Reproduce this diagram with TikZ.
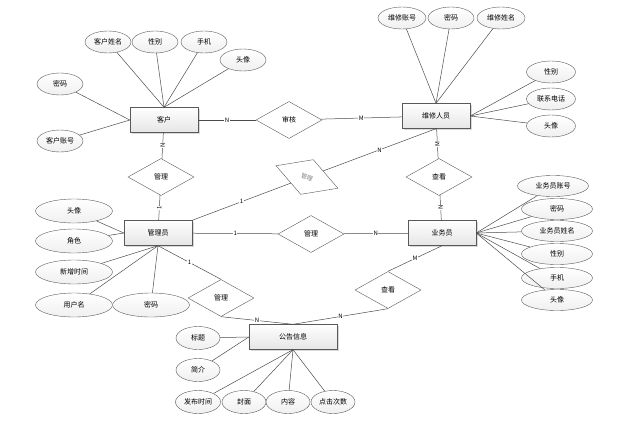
\documentclass[tikz,border=0pt]{standalone}
\usepackage{fontspec}
\setmainfont{Noto Sans CJK SC}
\usetikzlibrary{shapes.geometric,shadows}
\begin{document}
\begin{tikzpicture}[x=1pt,y=-1pt,
 every node/.style={font=\fontsize{7}{8}\selectfont},
 ent/.style={draw=gray!70!black,rectangle,minimum width=68pt,minimum height=25pt,top color=white,bottom color=gray!20,drop shadow={opacity=0.3,shadow xshift=1.5pt,shadow yshift=-1.5pt}},
 att/.style={draw=gray!70!black,ellipse,minimum width=46pt,minimum height=22pt,inner sep=0pt,top color=white,bottom color=gray!12},
 rel/.style={draw=gray!70!black,diamond,aspect=1.8,minimum width=66pt,minimum height=37pt,inner sep=0pt,fill=white},
 lab/.style={fill=white,inner sep=0.5pt,font=\fontsize{6}{7}\selectfont},
 ln/.style={draw=gray!60!black,line width=0.5pt}]
\useasboundingbox (0,0) rectangle (617,420);
% entities
\node[ent] (kh) at (164,120) {客户};
\node[ent] (wx) at (436,116) {维修人员};
\node[ent] (gly) at (158,233) {管理员};
\node[ent,minimum width=68pt] (ywy) at (442,233) {业务员};
\node[ent,minimum width=88pt] (gg) at (293,337) {公告信息};
% relations
\node[rel] (r1) at (289,120) {审核};
\node[rel,aspect=1.6] (r2) at (161,177) {管理};
\node[rel,rotate=-20] (r3) at (307,177) {};
\node[text=gray,rotate=-20,font=\fontsize{6}{7}\selectfont] (r3t) at (r3.center) {管理};
\node[rel,aspect=1.7] (r4) at (439,177) {查看};
\node[rel] (r5) at (311,234) {管理};
\node[rel] (r6) at (221,298) {管理};
\node[rel] (r7) at (388,290) {查看};
% customer attributes
\node[att] (k1) at (108,42) {客户姓名};
\node[att] (k2) at (155,42) {性别};
\node[att] (k3) at (204,42) {手机};
\node[att] (k4) at (243,60) {头像};
\node[att] (k5) at (60,84) {密码};
\node[att] (k6) at (60,141) {客户账号};
% repair attributes
\node[att,minimum width=48pt] (w1) at (402,18) {维修账号};
\node[att] (w2) at (451,18) {密码};
\node[att,minimum width=48pt] (w3) at (501,18) {维修姓名};
\node[att,minimum width=49pt] (w4) at (551,72) {性别};
\node[att,minimum width=49pt] (w5) at (551,99) {联系电话};
\node[att,minimum width=49pt] (w6) at (551,126) {头像};
% admin attributes
\node[att,minimum width=77pt,minimum height=24pt] (g1) at (74,211) {头像};
\node[att,minimum width=77pt,minimum height=24pt] (g2) at (74,241) {角色};
\node[att,minimum width=77pt,minimum height=24pt] (g3) at (74,272) {新增时间};
\node[att,minimum width=77pt,minimum height=24pt] (g4) at (74,305) {用户名};
\node[att,minimum width=77pt,minimum height=24pt] (g5) at (151,305) {密码};
% salesman attributes
\node[att,minimum width=71pt,minimum height=21pt] (y1) at (553,186) {业务员账号};
\node[att,minimum width=71pt,minimum height=21pt] (y2) at (557,209) {密码};
\node[att,minimum width=71pt,minimum height=21pt] (y3) at (557,231) {业务员姓名};
\node[att,minimum width=71pt,minimum height=21pt] (y4) at (557,254) {性别};
\node[att,minimum width=71pt,minimum height=21pt] (y5) at (557,278) {手机};
\node[att,minimum width=71pt,minimum height=21pt] (y6) at (557,300) {头像};
% notice attributes
\node[att,minimum width=44pt,minimum height=23pt] (n1) at (198,338) {标题};
\node[att,minimum width=44pt,minimum height=23pt] (n2) at (198,370) {简介};
\node[att,minimum width=45pt,minimum height=23pt] (n3) at (198,402) {发布时间};
\node[att,minimum width=44pt,minimum height=23pt] (n4) at (244,402) {封面};
\node[att,minimum width=44pt,minimum height=23pt] (n5) at (288,402) {内容};
\node[att,minimum width=44pt,minimum height=23pt] (n6) at (333,402) {点击次数};
% attribute lines
\foreach \a in {k1,k2,k3,k4} \draw[ln] (\a) -- (kh.north);
\draw[ln] (k5) -- (kh.west); \draw[ln] (k6) -- (kh.west);
\foreach \a in {w1,w2,w3} \draw[ln] (\a) -- (wx.north);
\foreach \a in {w4,w5,w6} \draw[ln] (\a) -- (wx.east);
\draw[ln] (g1) -- (gly.west); \draw[ln] (g2) -- (gly.west);
\foreach \a in {g3,g4,g5} \draw[ln] (\a) -- (gly.south);
\foreach \a in {y1,y2,y3,y4,y5,y6} \draw[ln] (\a) -- (ywy.east);
\draw[ln] (n1) -- (gg.west); \draw[ln] (n2) -- (gg.west);
\foreach \a in {n3,n4,n5,n6} \draw[ln] (\a) -- (gg.south);
% relation lines
\draw[ln] (kh) -- node[lab]{N} (r1);
\draw[ln] (r1) -- node[lab]{M} (wx);
\draw[ln] (kh) -- node[lab,rotate=90]{N} (r2);
\draw[ln] (r2) -- node[lab,rotate=90]{1} (gly);
\draw[ln] (gly.north east) -- node[lab]{1} (r3);
\draw[ln] (r3) -- node[lab]{N} (wx.south);
\draw[ln] (wx) -- node[lab,rotate=90]{M} (r4);
\draw[ln] (r4) -- node[lab,rotate=90]{N} (ywy);
\draw[ln] (gly) -- node[lab]{1} (r5);
\draw[ln] (r5) -- node[lab]{N} (ywy);
\draw[ln] (gly.south) -- node[lab]{1} (r6.north);
\draw[ln] (r6.south) -- node[lab]{N} (gg.north);
\draw[ln] (ywy.south) -- node[lab]{M} (r7.north);
\draw[ln] (r7.south) -- node[lab]{N} (gg.north);
\end{tikzpicture}
\end{document}
